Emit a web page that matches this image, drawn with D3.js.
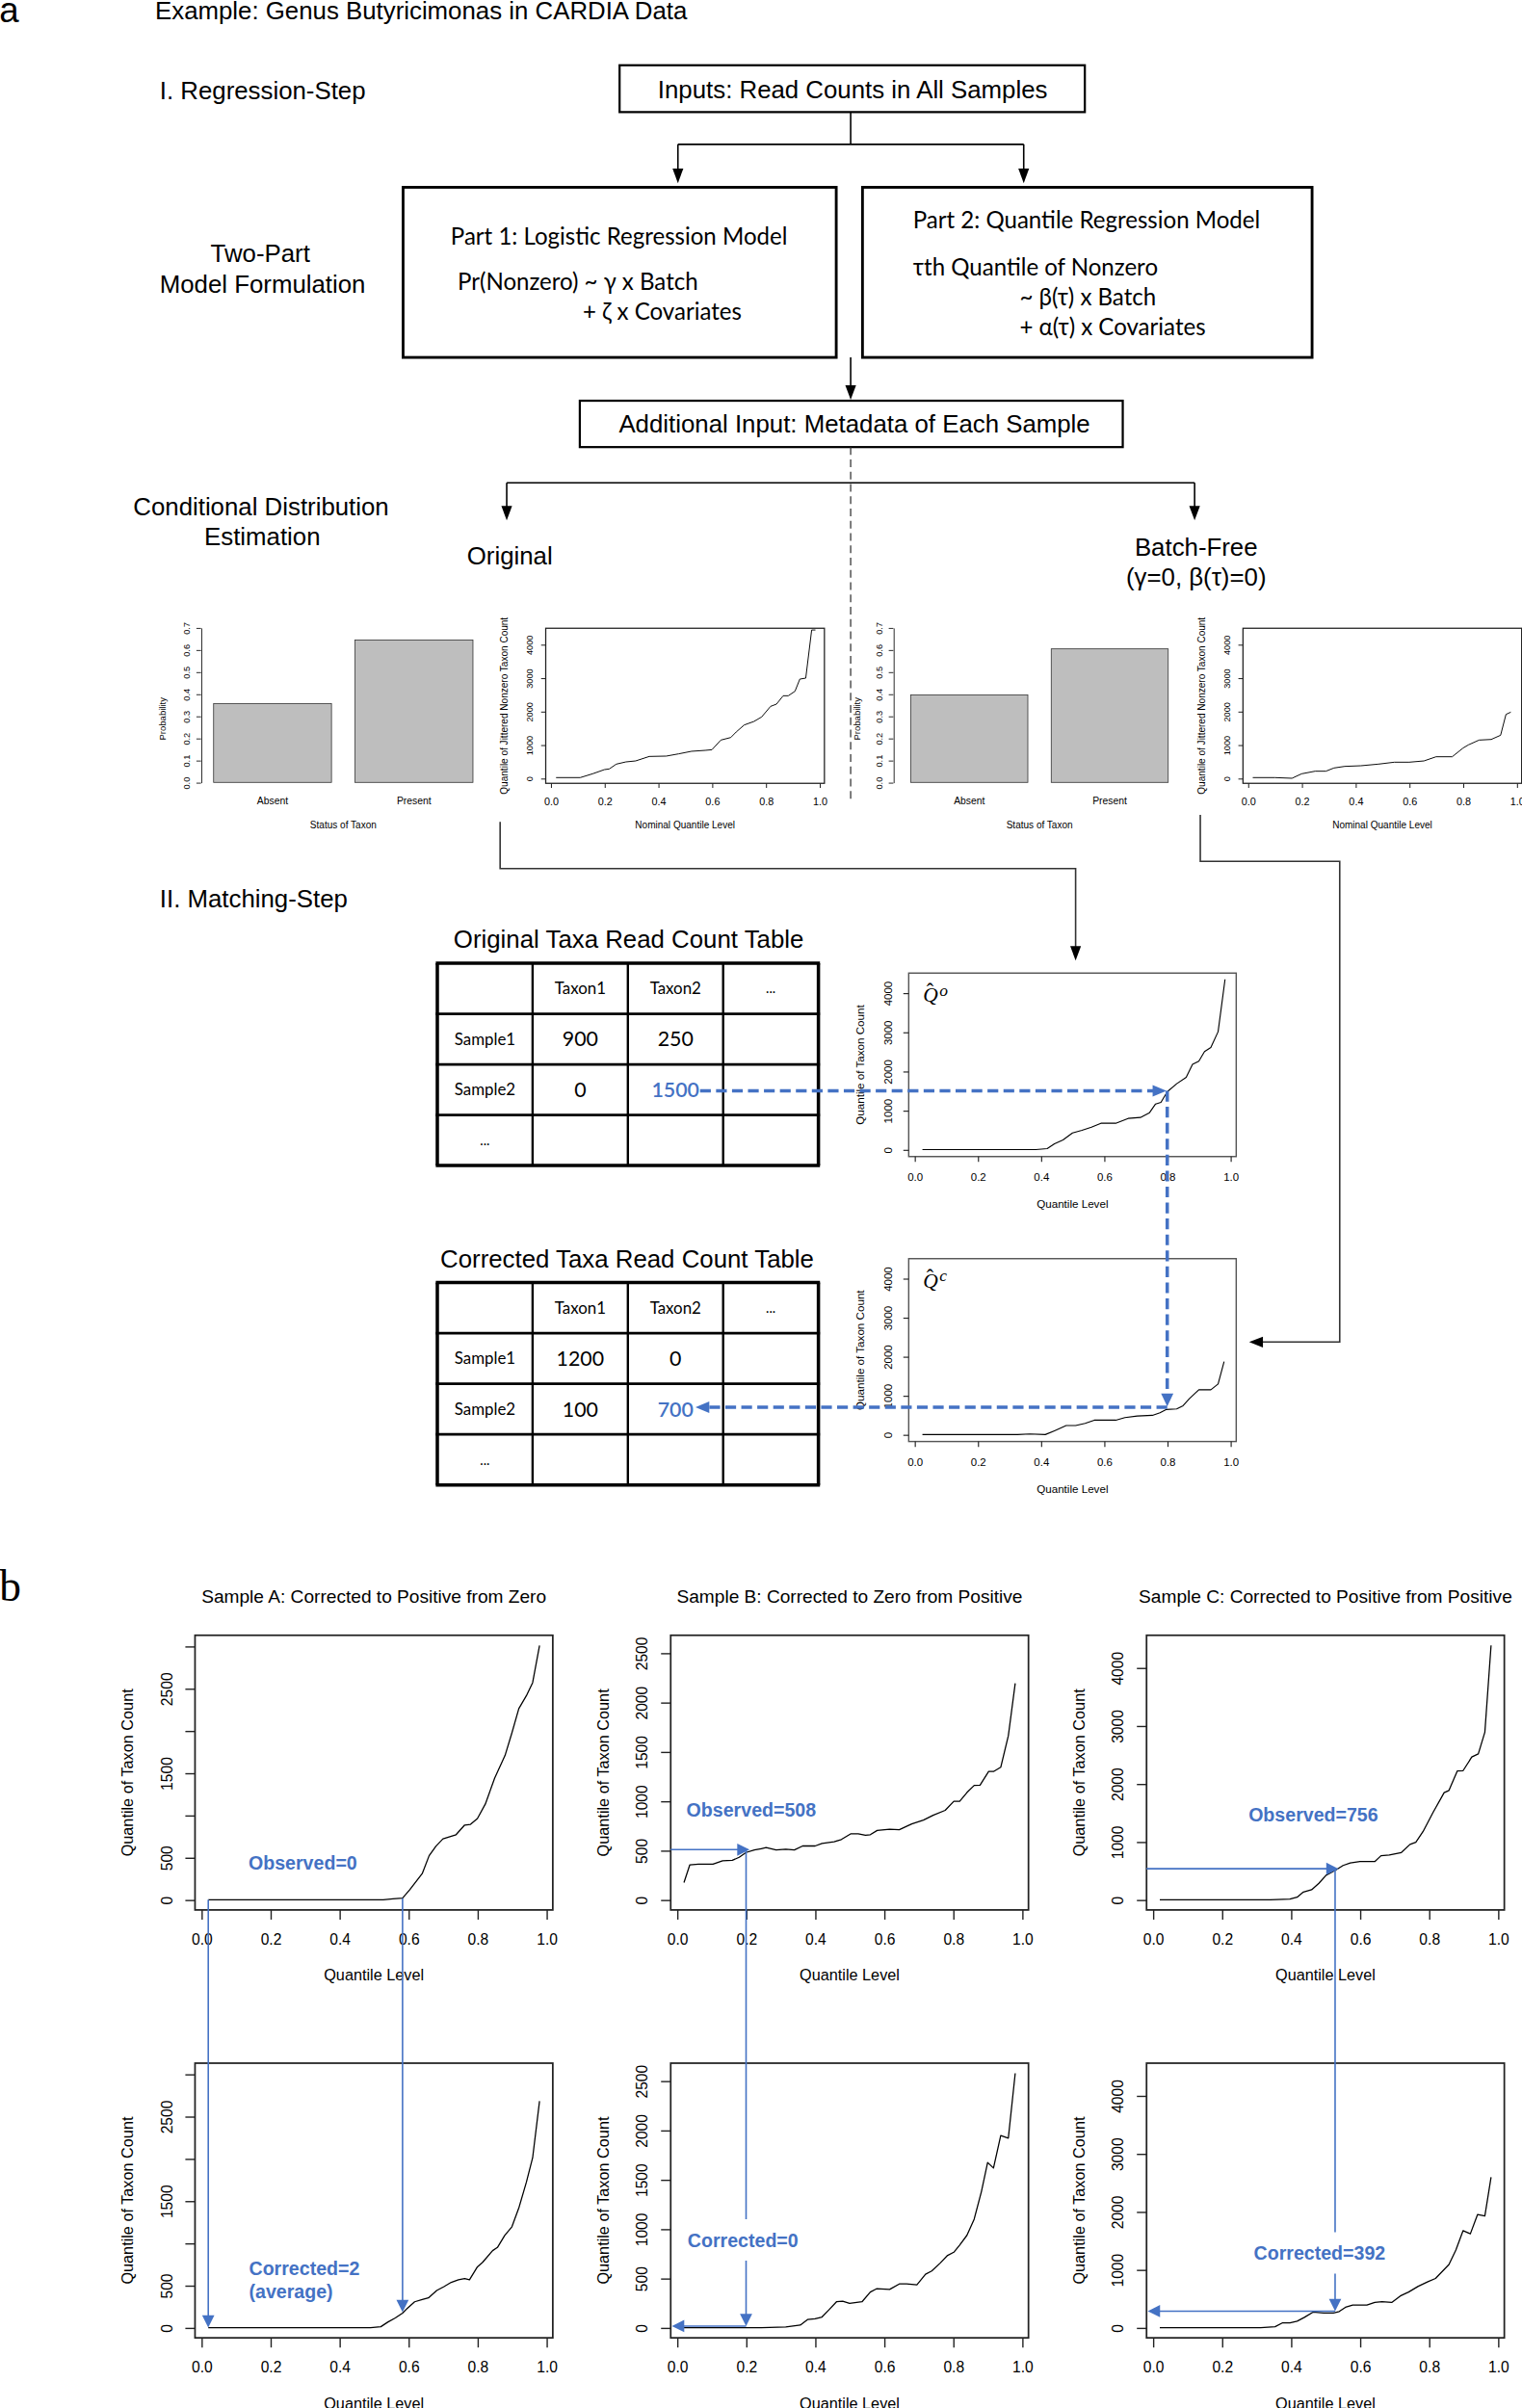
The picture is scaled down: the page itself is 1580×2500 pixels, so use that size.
<!DOCTYPE html>
<html><head><meta charset="utf-8">
<script src="https://cdn.jsdelivr.net/npm/d3@7"></script>
<style>body{margin:0;background:#fff}svg{display:block}</style>
</head><body>
<svg id="c" width="1580" height="2500" viewBox="0 0 991.2 1568.4"></svg>
<script>
// ================= DATA =================
const barCategories = ["Absent", "Present"];
const barOriginal = [0.356, 0.644];
const barBatchFree = [0.396, 0.604];
const barTicks = [0, 0.1, 0.2, 0.3, 0.4, 0.5, 0.6, 0.7];
const qTicks = [0, 0.2, 0.4, 0.6, 0.8, 1.0];
const smallYTicks = [0, 1000, 2000, 3000, 4000];

// nominal quantile level vs quantile of jittered nonzero count
const qOriginalNonzero = [[0.02,20],[0.11,20],[0.156,134],[0.2,259],[0.218,278],[0.244,422],[0.28,489],[0.316,518],[0.367,652],[0.43,662],[0.476,729],[0.524,806],[0.575,834],[0.6,853],[0.633,1141],[0.67,1218],[0.69,1381],[0.72,1592],[0.756,1697],[0.785,1832],[0.818,2148],[0.84,2215],[0.865,2465],[0.884,2465],[0.909,2600],[0.927,2963],[0.949,2992],[0.971,4430],[0.985,4430]];
const qBatchFreeNonzero = [[0.018,20],[0.1,20],[0.164,0],[0.2,134],[0.25,211],[0.29,211],[0.32,307],[0.36,355],[0.42,374],[0.485,422],[0.545,480],[0.6,480],[0.655,518],[0.7,643],[0.76,643],[0.8,901],[0.82,997],[0.86,1141],[0.905,1160],[0.94,1285],[0.96,1908],[0.978,1975]];

// matching step: quantile level vs quantile of taxon count
const qHatOriginal = [[0.025,0],[0.384,0],[0.42,25],[0.443,148],[0.47,246],[0.5,426],[0.53,492],[0.56,574],[0.59,672],[0.637,672],[0.676,795],[0.715,820],[0.744,943],[0.763,1164],[0.78,1205],[0.8,1476],[0.83,1681],[0.86,1845],[0.88,2173],[0.9,2255],[0.918,2501],[0.938,2608],[0.961,3009],[0.983,4346]];
const qHatCorrected = [[0.025,0],[0.326,0],[0.365,16],[0.414,0],[0.443,98],[0.48,230],[0.51,230],[0.54,287],[0.569,369],[0.637,369],[0.666,435],[0.705,476],[0.753,492],[0.777,558],[0.796,640],[0.83,656],[0.85,738],[0.87,918],[0.9,1148],[0.938,1148],[0.961,1296],[0.98,1870]];

const tableHeader = ["", "Taxon1", "Taxon2", "..."];
const tableRowLabels = ["Sample1", "Sample2", "..."];
const originalCounts = [["900", "250", ""], ["0", "1500", ""], ["", "", ""]];
const correctedCounts = [["1200", "0", ""], ["100", "700", ""], ["", "", ""]];
const highlightCell = [1, 1];          // Sample2 / Taxon2
const matchQuantile = 0.8;
const matchObserved = 1500;
const matchCorrected = 700;

// panel b
const sampleTitles = ["Sample A: Corrected to Positive from Zero", "Sample B: Corrected to Zero from Positive", "Sample C: Corrected to Positive from Positive"];
const sampleATop = [[0.02,0],[0.527,0],[0.555,11],[0.583,19],[0.604,119],[0.64,310],[0.66,521],[0.68,635],[0.7,720],[0.738,770],[0.763,884],[0.78,892],[0.8,961],[0.823,1133],[0.85,1439],[0.88,1707],[0.9,1975],[0.92,2262],[0.942,2415],[0.96,2569],[0.98,3009]];
const sampleABottom = [[0.02,0],[0.49,0],[0.52,11],[0.54,65],[0.562,115],[0.583,172],[0.597,230],[0.618,306],[0.64,333],[0.658,352],[0.682,440],[0.703,486],[0.724,536],[0.745,567],[0.763,582],[0.777,567],[0.8,720],[0.815,773],[0.844,911],[0.858,949],[0.879,1091],[0.9,1194],[0.92,1416],[0.942,1723],[0.96,2010],[0.98,2680]];
const sampleBTop = [[0.02,174],[0.037,354],[0.062,361],[0.104,361],[0.132,394],[0.16,400],[0.18,430],[0.2,479],[0.224,505],[0.244,518],[0.258,528],[0.287,505],[0.315,512],[0.34,505],[0.364,545],[0.4,545],[0.42,571],[0.455,587],[0.476,610],[0.504,669],[0.525,669],[0.546,653],[0.56,659],[0.58,702],[0.616,715],[0.644,709],[0.68,768],[0.714,807],[0.742,856],[0.777,906],[0.802,997],[0.819,997],[0.84,1086],[0.861,1158],[0.878,1161],[0.903,1299],[0.917,1299],[0.938,1342],[0.96,1660],[0.98,2192]];
const sampleBBottom = [[0.02,0],[0.244,0],[0.315,7],[0.357,26],[0.378,82],[0.4,89],[0.42,108],[0.44,180],[0.462,262],[0.48,269],[0.5,246],[0.536,262],[0.56,361],[0.578,394],[0.616,387],[0.644,443],[0.665,443],[0.695,433],[0.72,541],[0.738,574],[0.763,656],[0.784,732],[0.802,764],[0.819,837],[0.84,935],[0.861,1099],[0.882,1378],[0.9,1673],[0.917,1617],[0.938,1946],[0.96,1919],[0.98,2576]];
const sampleCTop = [[0.02,0],[0.34,0],[0.397,11],[0.418,45],[0.436,134],[0.46,173],[0.481,284],[0.502,424],[0.53,513],[0.551,591],[0.572,636],[0.6,658],[0.643,658],[0.661,759],[0.685,770],[0.72,814],[0.745,954],[0.762,993],[0.783,1177],[0.811,1495],[0.844,1846],[0.858,1885],[0.882,2220],[0.899,2226],[0.924,2460],[0.943,2516],[0.962,2889],[0.98,4384]];
const sampleCBottom = [[0.02,0],[0.312,0],[0.354,17],[0.376,84],[0.397,84],[0.418,112],[0.439,178],[0.464,268],[0.495,251],[0.523,251],[0.54,279],[0.558,351],[0.579,390],[0.62,390],[0.643,435],[0.664,446],[0.692,435],[0.717,547],[0.741,614],[0.769,714],[0.797,792],[0.819,848],[0.858,1088],[0.878,1339],[0.899,1673],[0.92,1618],[0.941,1952],[0.962,1924],[0.98,2594]];
const yTicksA = [0, 500, 1000, 1500, 2000, 2500, 3000];
const yLabelsA = [0, 500, 1500, 2500];
const yTicksB = [0, 500, 1000, 1500, 2000, 2500];
const yTicksC = [0, 1000, 2000, 3000, 4000];
const observedValues = [0, 508, 756];
const correctedValues = ["2", "0", "392"];
// quantile levels / count levels where the blue arrows sit
const matchA = {q: [0.02, 0.583], top: [0, 19], bottom: [0, 184]};
const matchB = {q: 0.2, top: 508, bottom: 16};
const matchC = {q: 0.528, top: 535, bottom: 285};

// ================= DRAWING =================
const FS = "'Liberation Sans', Arial, Helvetica, sans-serif";
const FC = "Lato, 'Open Sans', sans-serif";
const FSERIF = "'Liberation Serif', 'Times New Roman', serif";
const BLUE = "#4472C4";
const svg = d3.select("#c");
const g = svg.append("g");

function T(parent, x, y, s, o = {}) {
  const t = parent.append("text").attr("x", x).attr("y", y).text(s)
    .attr("font-family", o.ff || FS).attr("font-size", o.fs || 16.2)
    .attr("text-anchor", o.anchor || "start").attr("fill", o.fill || "#000");
  if (o.fw) t.attr("font-weight", o.fw);
  if (o.fst) t.attr("font-style", o.fst);
  if (o.dy) t.attr("dy", o.dy);
  if (o.rot) t.attr("transform", `rotate(${o.rot},${x},${y})`);
  return t;
}
function L(parent, pts, o = {}) {
  const p = parent.append("path").attr("d", d3.line()(pts)).attr("fill", "none")
    .attr("stroke", o.stroke || "#000").attr("stroke-width", o.sw || 1);
  if (o.dash) p.attr("stroke-dasharray", o.dash);
  return p;
}
function head(parent, tx, ty, dir, len, wid, fill) {
  let pts;
  if (dir === "down") pts = [[tx, ty], [tx - wid / 2, ty - len], [tx + wid / 2, ty - len]];
  if (dir === "up") pts = [[tx, ty], [tx - wid / 2, ty + len], [tx + wid / 2, ty + len]];
  if (dir === "right") pts = [[tx, ty], [tx - len, ty - wid / 2], [tx - len, ty + wid / 2]];
  if (dir === "left") pts = [[tx, ty], [tx + len, ty - wid / 2], [tx + len, ty + wid / 2]];
  parent.append("path").attr("d", d3.line()(pts) + "Z").attr("fill", fill || "#000");
}
function box(parent, x, y, w, h, sw, stroke) {
  parent.append("rect").attr("x", x).attr("y", y).attr("width", w).attr("height", h)
    .attr("fill", "none").attr("stroke", stroke || "#000").attr("stroke-width", sw);
}

// ---------- panel a: header & flow ----------
T(g, -0.5, 14.4, "a", {fs: 23});
T(g, 101, 12.5, "Example: Genus Butyricimonas in CARDIA Data");
T(g, 104, 64.6, "I. Regression-Step");
box(g, 403.5, 42.5, 303, 30.5, 1.4);
T(g, 555.3, 64.1, "Inputs: Read Counts in All Samples", {anchor: "middle"});
L(g, [[554, 73], [554, 94]]);
L(g, [[441.5, 94], [666.7, 94]]);
L(g, [[441.5, 94], [441.5, 111]]); head(g, 441.5, 119.3, "down", 9.5, 7);
L(g, [[666.7, 94], [666.7, 111]]); head(g, 666.7, 119.3, "down", 9.5, 7);

T(g, 169.5, 170.8, "Two-Part", {anchor: "middle"});
T(g, 171, 190.6, "Model Formulation", {anchor: "middle"});
box(g, 262.5, 122, 282.1, 110.8, 1.8);
box(g, 561.7, 122, 292.8, 110.8, 1.8);
const PF = 15.1;
T(g, 293.5, 159.2, "Part 1: Logistic Regression Model", {ff: FC, fs: PF});
T(g, 298, 188.8, "Pr(Nonzero) ~ γ x Batch", {ff: FC, fs: PF});
T(g, 379.5, 208.5, "+ ζ x Covariates", {ff: FC, fs: PF});
T(g, 594.6, 148.6, "Part 2: Quantile Regression Model", {ff: FC, fs: PF});
T(g, 594.6, 179.3, "τth Quantile of Nonzero", {ff: FC, fs: PF});
T(g, 664, 198.8, "~ β(τ) x Batch", {ff: FC, fs: PF});
T(g, 664, 218.3, "+ α(τ) x Covariates", {ff: FC, fs: PF});

L(g, [[554, 232.8], [554, 251]]); head(g, 554, 260.4, "down", 9.5, 7);
box(g, 377.6, 261, 353.6, 30.2, 1.4);
T(g, 556.5, 281.8, "Additional Input: Metadata of Each Sample", {anchor: "middle"});
L(g, [[554, 291.2], [554, 522.8]], {sw: 0.8, dash: "5 3", stroke: "#333"});
L(g, [[330, 314.5], [778, 314.5]]);
L(g, [[330, 314.5], [330, 330]]); head(g, 330, 339, "down", 9.5, 7);
L(g, [[778, 314.5], [778, 330]]); head(g, 778, 339, "down", 9.5, 7);

T(g, 170, 335.8, "Conditional Distribution", {anchor: "middle"});
T(g, 170.8, 355.1, "Estimation", {anchor: "middle"});
T(g, 332, 367.8, "Original", {anchor: "middle"});
T(g, 779, 362.3, "Batch-Free", {anchor: "middle"});
T(g, 779, 381.5, "(γ=0, β(τ)=0)", {anchor: "middle"});

// ---------- bar plots ----------
function barPlot(parent, cfg, values) {
  const x = d3.scaleBand().domain(barCategories).range([cfg.x0, cfg.x1]).paddingInner(1 / 6).paddingOuter(0);
  const y = d3.scaleLinear().domain([0, 0.7]).range([cfg.yb, cfg.yt]);
  parent.append("g").selectAll("rect").data(values).join("rect")
    .attr("x", (d, i) => x(barCategories[i])).attr("y", d => y(d))
    .attr("width", x.bandwidth()).attr("height", d => y(0) - y(d))
    .attr("fill", "#bebebe").attr("stroke", "#333").attr("stroke-width", 0.5);
  const fs = 5.8;
  const ax = parent.append("g").attr("transform", `translate(${cfg.axisX},0)`)
    .call(d3.axisLeft(y).tickValues(barTicks).tickSize(3).tickSizeOuter(0).tickFormat(d3.format(".1f")));
  ax.attr("font-size", null).attr("font-family", null);
  ax.select(".domain").attr("stroke", "#222").attr("stroke-width", 0.6);
  ax.selectAll(".tick line").attr("stroke", "#222").attr("stroke-width", 0.6);
  ax.selectAll(".tick text").attr("x", 0).attr("dy", null)
    .attr("transform", `translate(${-(cfg.axisX - cfg.labX) + 0.355 * fs},0) rotate(-90)`)
    .attr("text-anchor", "middle").attr("font-size", fs).attr("font-family", FS);
  parent.append("g").selectAll("text").data(barCategories).join("text")
    .attr("x", d => x(d) + x.bandwidth() / 2).attr("y", cfg.catY + 0.355 * 6.5).text(d => d)
    .attr("text-anchor", "middle").attr("font-size", 6.5).attr("font-family", FS);
  T(parent, (cfg.x0 + cfg.x1) / 2, cfg.titleY + 0.355 * 6.3, "Status of Taxon", {anchor: "middle", fs: 6.3});
  const px = cfg.probX + 0.3 * 6;
  T(parent, px, (cfg.yb + cfg.yt) / 2 + 9, "Probability", {anchor: "middle", fs: 6, rot: -90});
}
barPlot(g, {x0: 139.1, x1: 308, yb: 509.6, yt: 408.8, axisX: 130.9, labX: 121.4, probX: 106.2, catY: 521.8, titleY: 537}, barOriginal);
barPlot(g, {x0: 593.2, x1: 760.8, yb: 509.6, yt: 408.8, axisX: 581.8, labX: 572.3, probX: 558.4, catY: 521.8, titleY: 537}, barBatchFree);

// ---------- quantile plots ----------
function qPlot(parent, cfg, data) {
  const x = d3.scaleLinear().domain(cfg.xDomain).range([cfg.x, cfg.x + cfg.w]);
  const y = d3.scaleLinear().domain(cfg.yDomain).range([cfg.y + cfg.h, cfg.y]);
  parent.append("path").datum(data)
    .attr("d", d3.line().x(d => x(d[0])).y(d => y(d[1])))
    .attr("fill", "none").attr("stroke", "#000").attr("stroke-width", cfg.lw).attr("stroke-linejoin", "round");
  box(parent, cfg.x, cfg.y, cfg.w, cfg.h, cfg.bw, cfg.bc || "#222");
  const xa = parent.append("g").attr("transform", `translate(0,${cfg.y + cfg.h})`)
    .call(d3.axisBottom(x).tickValues(qTicks).tickSize(cfg.tick).tickSizeOuter(0)
      .tickPadding(cfg.xLabOff - cfg.tick - 0.355 * cfg.tfs).tickFormat(d3.format(".1f")));
  xa.attr("font-size", null).attr("font-family", null);
  xa.select(".domain").remove();
  xa.selectAll(".tick line").attr("stroke", "#222").attr("stroke-width", cfg.bw * 0.8);
  xa.selectAll(".tick text").attr("font-size", cfg.tfs).attr("font-family", FS);
  const ya = parent.append("g").attr("transform", `translate(${cfg.x},0)`)
    .call(d3.axisLeft(y).tickValues(cfg.yTicks).tickSize(cfg.tick).tickSizeOuter(0)
      .tickFormat(d => (cfg.yLabeled || cfg.yTicks).includes(d) ? d3.format("d")(d) : ""));
  ya.attr("font-size", null).attr("font-family", null);
  ya.select(".domain").remove();
  ya.selectAll(".tick line").attr("stroke", "#222").attr("stroke-width", cfg.bw * 0.8);
  ya.selectAll(".tick text").attr("x", 0).attr("dy", null)
    .attr("transform", `translate(${-cfg.yLabOff + 0.355 * cfg.yfs},0) rotate(-90)`)
    .attr("text-anchor", "middle").attr("font-size", cfg.yfs).attr("font-family", FS);
  T(parent, cfg.x + cfg.w / 2, cfg.y + cfg.h + cfg.xTitleOff + 0.355 * cfg.lfs, cfg.xTitle, {anchor: "middle", fs: cfg.lfs});
  const tx = cfg.x - cfg.yTitleOff + 0.3 * cfg.lfs, ty = cfg.y + cfg.h / 2;
  T(parent, tx, ty, cfg.yTitle, {anchor: "middle", fs: cfg.lfs, rot: -90});
  return {x, y};
}
const xDom = [-0.0184, 1.0184];
const smallCfg = {y: 409.2, w: 181.5, h: 101, xDomain: xDom, yDomain: [-151, 4482], yTicks: smallYTicks,
  lw: 0.6, bw: 0.8, tick: 3, xLabOff: 11.7, xTitleOff: 27.2, yLabOff: 10.7, yTitleOff: 26.6,
  tfs: 6.8, yfs: 5.8, lfs: 6.3, xTitle: "Nominal Quantile Level", yTitle: "Quantile of Jittered Nonzero Taxon Count"};
qPlot(g, Object.assign({}, smallCfg, {x: 355.4}), qOriginalNonzero);
qPlot(g, Object.assign({}, smallCfg, {x: 809.5}), qBatchFreeNonzero);

// ---------- matching step ----------
T(g, 104, 591, "II. Matching-Step");
L(g, [[325.7, 535.3], [325.7, 565.7], [700.5, 565.7], [700.5, 617]], {stroke: "#333"});
head(g, 700.5, 625.7, "down", 9.5, 7);
L(g, [[781.7, 530.7], [781.7, 561], [872.5, 561], [872.5, 874.1], [821, 874.1]], {stroke: "#333"});
head(g, 813.5, 874.1, "left", 9, 7);

T(g, 409.4, 617.5, "Original Taxa Read Count Table", {anchor: "middle"});
T(g, 408.4, 825.6, "Corrected Taxa Read Count Table", {anchor: "middle"});

function drawTable(parent, x0, y0, cw, rh, counts) {
  const rows = [tableHeader].concat(tableRowLabels.map((r, i) => [r].concat(counts[i])));
  const cells = [];
  rows.forEach((row, ri) => row.forEach((v, ci) => cells.push({v, ri, ci})));
  const isHi = d => d.ri - 1 === highlightCell[0] && d.ci - 1 === highlightCell[1];
  parent.append("g").selectAll("text").data(cells).join("text")
    .attr("x", d => x0 + cw * d.ci + cw / 2).attr("y", d => y0 + rh * d.ri + rh / 2)
    .attr("dy", "0.36em")
    .attr("text-anchor", "middle").attr("font-family", FC)
    .attr("font-size", d => (d.ri === 0 || d.ci === 0) ? (d.v === "..." ? 9 : 10.6) : 13.4)
    .attr("fill", d => isHi(d) ? BLUE : "#000")
    .attr("font-weight", d => isHi(d) ? 600 : 400)
    .text(d => d.v);
  const nR = rows.length, nC = tableHeader.length;
  for (let i = 0; i <= nR; i++) L(parent, [[x0 - 1, y0 + rh * i], [x0 + cw * nC + 1, y0 + rh * i]], {sw: (i === 0 || i === nR) ? 2.2 : 1.7});
  for (let j = 0; j <= nC; j++) L(parent, [[x0 + cw * j, y0], [x0 + cw * j, y0 + rh * nR]], {sw: (j === 0 || j === nC) ? 2.2 : 1.5});
  return {cx: c => x0 + cw * c + cw / 2, cy: r => y0 + rh * r + rh / 2};
}
const tab1 = drawTable(g, 284.8, 627.4, 62.05, 32.93, originalCounts);
const tab2 = drawTable(g, 284.8, 835.4, 62.05, 32.95, correctedCounts);

const hatCfg = {x: 591.8, w: 213.3, xDomain: xDom, yDomain: [-178, 4505], yTicks: smallYTicks,
  lw: 0.7, bw: 0.9, bc: "#555", tick: 3.5, xLabOff: 13.1, xTitleOff: 30.9, yLabOff: 13.2, yTitleOff: 31.2,
  tfs: 7.2, yfs: 7.2, lfs: 7.3, xTitle: "Quantile Level", yTitle: "Quantile of Taxon Count"};
const sO = qPlot(g, Object.assign({}, hatCfg, {y: 633.8, h: 119.5}), qHatOriginal);
const sC = qPlot(g, Object.assign({}, hatCfg, {y: 819.8, h: 119.1}), qHatCorrected);
// Q-hat labels: one text element, tspans for Q, hat and superscript
[[633.8, "o"], [819.8, "c"]].forEach(([by, sup]) => {
  const bx = 591.8;
  const t = g.append("text").attr("font-family", FSERIF).attr("fill", "#000");
  t.append("tspan").attr("x", bx + 9.3).attr("y", by + 18.8).attr("font-size", 13.5).attr("font-style", "italic").text("Q");
  t.append("tspan").attr("x", bx + 13.9 - 2.3).attr("y", by + 16.9).attr("font-size", 14).text("ˆ");
  t.append("tspan").attr("x", bx + 20).attr("y", by + 14.7).attr("font-size", 11).attr("font-style", "italic").text(sup);
});
// blue dashed matching arrows
const mx = sO.x(matchQuantile), myO = sO.y(matchObserved), myC = sC.y(matchCorrected);
const dashO = {stroke: BLUE, sw: 2.2, dash: "7 3.4"};
L(g, [[tab1.cx(2) + 16, myO], [mx - 8, myO]], dashO);
head(g, mx - 0.5, myO, "right", 9, 7.5, BLUE);
L(g, [[mx, myO], [mx, myC - 7]], dashO);
head(g, mx, myC - 0.5, "down", 8.4, 8, BLUE);
L(g, [[mx, myC], [tab2.cx(2) + 21, myC]], dashO);
head(g, tab2.cx(2) + 13, myC, "left", 9, 7.5, BLUE);

// ---------- panel b ----------
T(g, -0.5, 1042.9, "b", {ff: FSERIF, fs: 28.5});
const colLefts = [127, 436.8, 746.7];
const pbTop = 1065.1, pbBottom = 1343.8, pbW = 233, pbH = 178.9;
const columns = [
  {top: sampleATop, bottom: sampleABottom, ticks: yTicksA, labels: yLabelsA},
  {top: sampleBTop, bottom: sampleBBottom, ticks: yTicksB, labels: yTicksB},
  {top: sampleCTop, bottom: sampleCBottom, ticks: yTicksC, labels: yTicksC}
];
const bCfg = {w: pbW, h: pbH, xDomain: xDom, lw: 0.8, bw: 1.1, bc: "#222", tick: 6.3, xLabOff: 19.3, xTitleOff: 42.5,
  yLabOff: 18.5, yTitleOff: 43.3, tfs: 9.8, yfs: 9.8, lfs: 10.2, xTitle: "Quantile Level", yTitle: "Quantile of Taxon Count"};
const sc = columns.map((c, i) => {
  const mx = d3.max(c.top.concat(c.bottom), d => d[1]);
  const yDomain = [-0.04 * mx, 1.04 * mx];
  const o = {x: colLefts[i], yDomain, yTicks: c.ticks, yLabeled: c.labels};
  T(g, colLefts[i] + pbW / 2, pbTop - 21, sampleTitles[i], {anchor: "middle", fs: 12});
  const t = qPlot(g, Object.assign({}, bCfg, o, {y: pbTop}), c.top);
  const b = qPlot(g, Object.assign({}, bCfg, o, {y: pbBottom}), c.bottom);
  return {x: t.x, yt: t.y, yb: b.y, left: colLefts[i]};
});
const bl = {stroke: BLUE, sw: 1};
const AH = 8, AW = 8;
function blueText(x, y, s, anchor) {
  T(g, x, y, s, {fs: 12.3, fw: "bold", fill: BLUE, anchor: anchor || "middle", dy: "0.36em"});
}
// Sample A
{
  const s = sc[0];
  matchA.q.forEach((q, i) => {
    L(g, [[s.x(q), s.yt(matchA.top[i])], [s.x(q), s.yb(matchA.bottom[i]) - AH + 1]], bl);
    head(g, s.x(q), s.yb(matchA.bottom[i]), "down", AH, AW, BLUE);
  });
  blueText(s.x(0.294), s.yt(443), "Observed=" + observedValues[0]);
  blueText(s.x(0.138), s.yb(705), "Corrected=" + correctedValues[0], "start");
  blueText(s.x(0.138), s.yb(425), "(average)", "start");
}
// Sample B
{
  const s = sc[1], q = matchB.q;
  L(g, [[s.left, s.yt(matchB.top)], [s.x(q + 0.01) - AH + 1, s.yt(matchB.top)]], bl);
  head(g, s.x(q + 0.01), s.yt(matchB.top), "right", AH, AW, BLUE);
  const ty = s.yb(889);
  L(g, [[s.x(q), s.yt(matchB.top)], [s.x(q), ty - 13.5]], bl);
  L(g, [[s.x(q), ty + 13.5], [s.x(q), s.yb(matchB.bottom) - AH + 1]], bl);
  head(g, s.x(q), s.yb(matchB.bottom), "down", AH, AW, BLUE);
  L(g, [[s.x(q), s.yb(matchB.bottom)], [s.left + AH, s.yb(matchB.bottom)]], bl);
  head(g, s.left + 0.8, s.yb(matchB.bottom), "left", AH, AW, BLUE);
  blueText(s.x(0.215), s.yt(912), "Observed=" + observedValues[1]);
  blueText(s.x(0.191), ty, "Corrected=" + correctedValues[1]);
}
// Sample C
{
  const s = sc[2], q = matchC.q;
  L(g, [[s.left, s.yt(matchC.top)], [s.x(q + 0.01) - AH + 1, s.yt(matchC.top)]], bl);
  head(g, s.x(q + 0.01), s.yt(matchC.top), "right", AH, AW, BLUE);
  const ty = s.yb(1288);
  L(g, [[s.x(q), s.yt(matchC.top)], [s.x(q), ty - 13.5]], bl);
  L(g, [[s.x(q), ty + 13.5], [s.x(q), s.yb(matchC.bottom) - AH + 1]], bl);
  head(g, s.x(q), s.yb(matchC.bottom), "down", AH, AW, BLUE);
  L(g, [[s.x(q), s.yb(matchC.bottom)], [s.left + AH, s.yb(matchC.bottom)]], bl);
  head(g, s.left + 0.8, s.yb(matchC.bottom), "left", AH, AW, BLUE);
  blueText(s.x(0.465), s.yt(1474), "Observed=" + observedValues[2]);
  blueText(s.x(0.483), ty, "Corrected=" + correctedValues[2]);
}
</script>
</body></html>
